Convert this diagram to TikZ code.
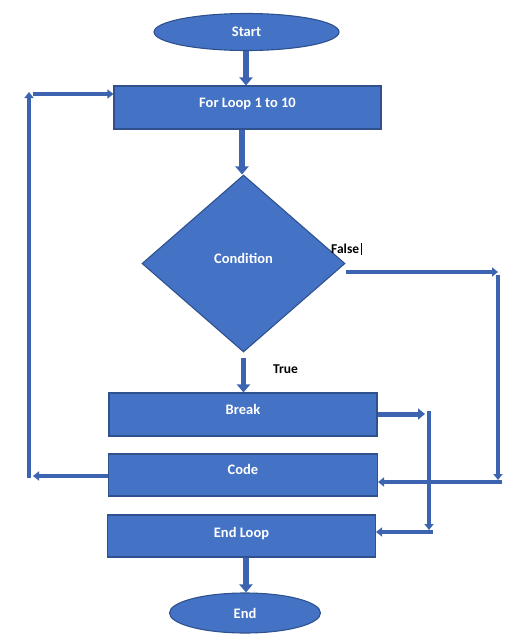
\documentclass[tikz,border=0pt]{standalone}
\usepackage{fontspec}
\setmainfont{Carlito}
\usetikzlibrary{shapes.geometric,arrows.meta}
\definecolor{boxfill}{HTML}{4472C4}
\definecolor{boxedge}{HTML}{2F528F}
\definecolor{linkblue}{HTML}{3C64B1}
\tikzset{
  shapebase/.style={fill=boxfill,draw=boxedge,line width=1.1pt,text=white,
    font=\fontsize{14.5}{17}\selectfont\bfseries,inner sep=0pt},
  oval/.style={shapebase,ellipse},
  stepbox/.style={shapebase,rectangle},
  decision/.style={shapebase,diamond},
  bigarrow/.style={draw=linkblue,line width=5.5pt,-{Triangle[width=13pt,length=8pt]}},
  midarrow/.style={draw=linkblue,line width=5pt,-{Triangle[width=11pt,length=7pt]}},
  thinlink/.style={draw=linkblue,line width=3.5pt},
  thinarrow/.style={thinlink,-{Triangle[width=9pt,length=6pt]}},
  tag/.style={text=black,font=\fontsize{13.5}{16}\selectfont\bfseries,inner sep=0pt}
}
\begin{document}
\begin{tikzpicture}[x=1pt,y=-1pt]
\useasboundingbox (0,0) rectangle (516,640);
% nodes
\node[oval,minimum width=185pt,minimum height=37pt] (start) at (246.5,32) {\raisebox{-2pt}{Start}};
\node[stepbox,minimum width=267pt,minimum height=43pt] (for) at (247.5,107.5) {\raisebox{9pt}{For Loop 1 to 10}};
\node[decision,minimum width=203pt,minimum height=177pt] (cond) at (243.5,263.5) {\raisebox{11pt}{Condition}};
\node[stepbox,minimum width=268pt,minimum height=43pt] (brk) at (243,414.5) {\raisebox{11pt}{Break}};
\node[stepbox,minimum width=269pt,minimum height=42pt] (code) at (243,475) {\raisebox{12pt}{Code}};
\node[stepbox,minimum width=268pt,minimum height=42pt] (endloop) at (241.5,536) {\raisebox{8pt}{End Loop}};
\node[oval,minimum width=151pt,minimum height=40pt] (end) at (245,613) {End};
% labels
\node[tag,anchor=west] (false) at (331,249) {False};
\node[tag,anchor=west] (true) at (273,369) {True};
\coordinate (cursortop) at (361,243);
\coordinate (cursorbot) at (361,255);
\draw[black,line width=0.6pt] (cursortop) -- (cursorbot);
% main flow arrows
\draw[bigarrow] (start.south -| {246,0}) -- (for.north -| {246,0});
\draw[bigarrow] (for.south -| {242,0}) -- (cond.north -| {242,0});
\coordinate (truetop) at (243.5,358);
\draw[bigarrow] (truetop) -- (brk.north -| truetop);
\draw[bigarrow] (endloop.south -| {246,0}) -- (end.north -| {246,0});
% false branch
\coordinate (fr1) at (498,272);
\coordinate (fr2) at (498,275);
\coordinate (fr3) at (498,480);
\coordinate (fr4) at (502,482);
\draw[thinarrow] (cond.east |- fr1) -- (fr1);
\draw[thinarrow] (fr2) -- (fr3);
\draw[thinarrow] (fr4) -- (code.east |- fr4);
% break branch
\coordinate (br1) at (425,414);
\coordinate (br2) at (429,411);
\coordinate (br3) at (429,530);
\coordinate (br4) at (433,532);
\draw[midarrow] (brk.east |- br1) -- (br1);
\draw[thinarrow] (br2) -- (br3);
\draw[thinarrow] (br4) -- (endloop.east |- br4);
% loop back
\coordinate (lp1) at (33,476);
\coordinate (lp2) at (29,478);
\coordinate (lp3) at (29,92);
\coordinate (lp4) at (33,94);
\draw[thinarrow] (code.west |- lp1) -- (lp1);
\draw[thinarrow] (lp2) -- (lp3);
\draw[thinarrow] (lp4) -- (for.west |- lp4);
\end{tikzpicture}
\end{document}
